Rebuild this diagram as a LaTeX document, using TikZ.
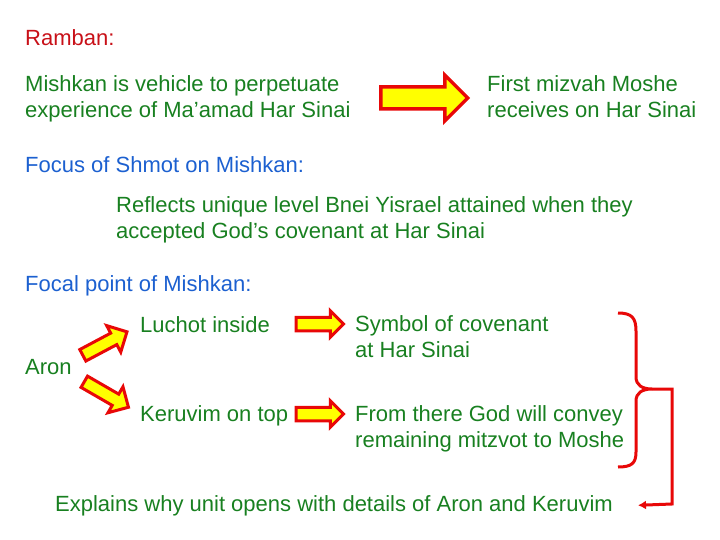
\documentclass[tikz,border=0pt]{standalone}
\usepackage{fontspec}
\setmainfont{Liberation Sans}
\usetikzlibrary{shapes.arrows,arrows.meta}
\definecolor{rambanred}{RGB}{200,16,24}
\definecolor{leafgreen}{RGB}{24,128,32}
\definecolor{headblue}{RGB}{28,96,208}
\definecolor{arrowred}{RGB}{232,8,8}
\definecolor{arrowyellow}{RGB}{255,255,0}
\begin{document}
\begin{tikzpicture}[x=1pt,y=-1pt,every node/.style={inner sep=0pt, font=\fontsize{22}{26}\selectfont},
  txt/.style={anchor=base west, align=left, text=leafgreen},
  head/.style={anchor=base west, text=headblue},
  bigarrow/.style={single arrow, draw=arrowred, fill=arrowyellow, line width=3.5pt, anchor=tail, inner ysep=9.25pt, minimum height=87pt, single arrow head extend=12pt},
  smallarrow/.style={single arrow, draw=arrowred, fill=arrowyellow, line width=3pt, anchor=tail, inner ysep=5.25pt, minimum height=47.5pt, single arrow head extend=6.5pt},
  link/.style={draw=arrowred, line width=3pt}]
\useasboundingbox (0,0) rectangle (720,540);
\node[head, text=rambanred] (ramban) at (25,46) {Ramban:};
\node[txt] (vehicle) at (25,118) {Mishkan is vehicle to perpetuate\\experience of Ma’amad Har Sinai};
\node[bigarrow] (arrFirst) at (379,98) {};
\node[txt] (first) at (487,118) {First mizvah Moshe\\receives on Har Sinai};
\node[head] (focus) at (25,173) {Focus of Shmot on Mishkan:};
\node[txt] (reflects) at (116,238) {Reflects unique level Bnei Yisrael attained when they\\accepted God’s covenant at Har Sinai};
\node[head] (focal) at (25,291) {Focal point of Mishkan:};
\node[txt] (aron) at (25,374) {Aron};
\node[txt] (luchot) at (140,332) {Luchot inside};
\node[txt] (keruvim) at (140,421) {Keruvim on top};
\node[smallarrow, rotate=28, minimum height=50pt, inner ysep=5pt, single arrow head extend=8.5pt] (arrUp) at (81.5,356) {};
\node[smallarrow, rotate=-30, minimum height=51pt, inner ysep=5pt, single arrow head extend=8.5pt] (arrDown) at (83,381) {};
\node[smallarrow] (arrSymbol) at (294.5,324) {};
\node[smallarrow] (arrConvey) at (294.5,414) {};
\node[txt] (symbol) at (355,357) {Symbol of covenant\\at Har Sinai};
\node[txt] (convey) at (355,447) {From there God will convey\\remaining mitzvot to Moshe};
\node[txt] (explain) at (55,511) {Explains why unit opens with details of Aron and Keruvim};
\draw[link] (618,313) .. controls (632,313) and (636,318) .. (636,331) -- (636,377) .. controls (636,385) and (642,389) .. (652,389) .. controls (642,389) and (636,393) .. (636,401) -- (636,452) .. controls (636,463) and (632,467) .. (618,467);
\coordinate (bracetip) at (652,389);
\coordinate (elbow) at (672,504);
\draw[link, -{Latex[length=8pt,width=9pt]}] (bracetip) -| (elbow) -- ([xshift=25pt]explain.east);
\end{tikzpicture}
\end{document}
